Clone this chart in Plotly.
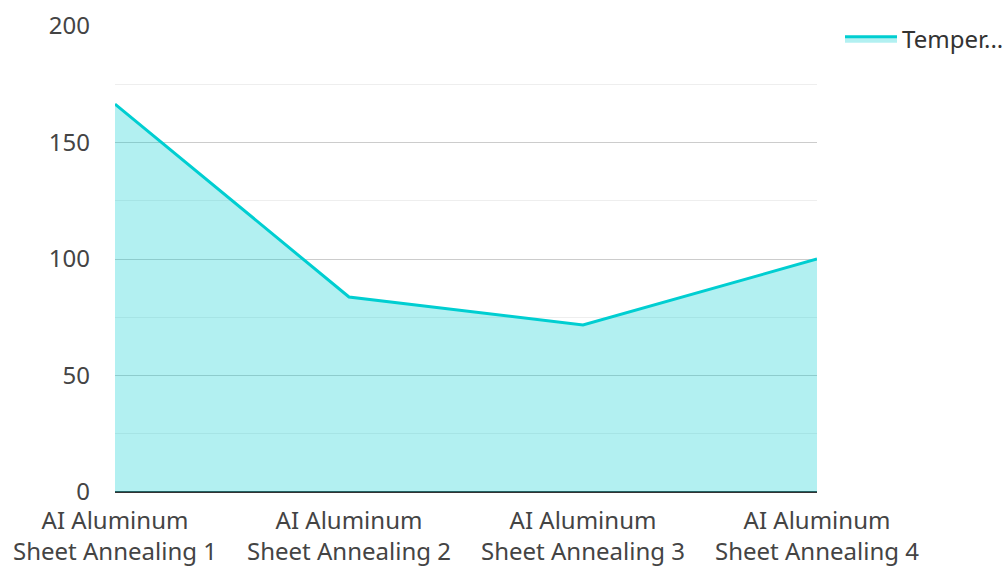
import plotly.graph_objects as go

categories = ["AI Aluminum<br>Sheet Annealing 1", "AI Aluminum<br>Sheet Annealing 2",
              "AI Aluminum<br>Sheet Annealing 3", "AI Aluminum<br>Sheet Annealing 4"]
temperature = [166.5, 83.7, 71.7, 100]
series_name = "Temper..."
y_ticks = [0, 50, 100, 150, 200]

x_idx = list(range(len(categories)))

fig = go.Figure()
fig.add_trace(go.Scatter(
    x=x_idx, y=temperature, name=series_name, mode="lines",
    line=dict(color="#00CED1", width=3),
    fill="tozeroy", fillcolor="rgba(0,206,209,0.3)",
    showlegend=True,
))

fig.update_layout(
    width=1004, height=566,
    margin=dict(l=115, r=187, t=26, b=74, autoexpand=False),
    paper_bgcolor="white", plot_bgcolor="white",
    font=dict(family="Noto Sans", size=24, color="#444444"),
    legend=dict(x=(840 - 115) / 702, y=1.02, xanchor="left", yanchor="top",
                font=dict(size=24, color="#333333"), itemwidth=52),
    xaxis=dict(range=[0, 3], tickvals=x_idx, ticktext=categories,
               showgrid=False, zeroline=False, showline=False, ticks="",
               ticklabelstandoff=12),
    yaxis=dict(range=[0, 200], tickvals=y_ticks, showgrid=True, gridcolor="#CCCCCC",
               gridwidth=1, zeroline=True, zerolinecolor="#333333", zerolinewidth=2,
               showline=False, ticks="", ticklabelstandoff=24,
               minor=dict(tickvals=[25, 75, 125, 175], showgrid=True, gridcolor="#EEEEEE", gridwidth=1)),
)

fig.write_html("out.html")
